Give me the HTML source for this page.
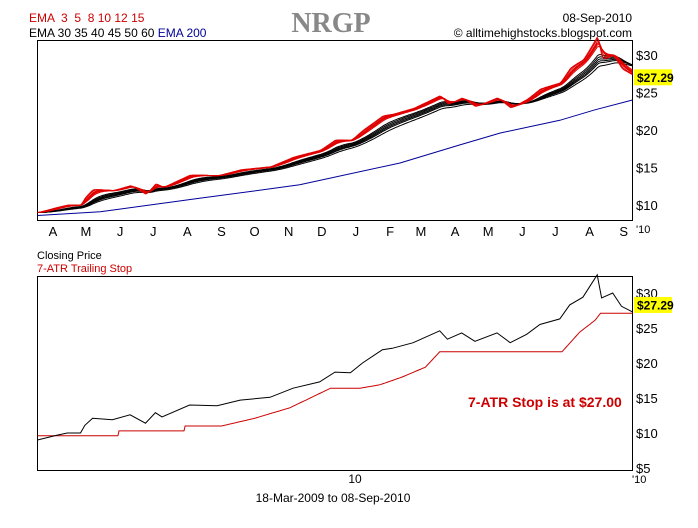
<!DOCTYPE html>
<html><head><meta charset="utf-8">
<style>
body{margin:0;background:#fff;width:698px;height:528px;overflow:hidden;font-family:"Liberation Sans",sans-serif;}
svg{display:block}
</style></head>
<body>
<svg id="chart" width="698" height="528">
  <text x="29" y="22" font-size="12" fill="#cc0000" xml:space="preserve">EMA  3  5  8 10 12 15</text>
  <text x="29" y="37" font-size="12" fill="#000">EMA 30 35 40 45 50 60 <tspan fill="#000099">EMA 200</tspan></text>
  <text x="331" y="32" font-size="28" font-weight="bold" fill="#888" text-anchor="middle" font-family="Liberation Serif, serif">NRGP</text>
  <text x="632" y="22" font-size="12" text-anchor="end">08-Sep-2010</text>
  <text x="632" y="37" font-size="12" text-anchor="end">© alltimehighstocks.blogspot.com</text>
  <rect x="37.5" y="40.5" width="595" height="180" fill="none" stroke="#000"/>
  <g id="topG"></g>
  <text x="37" y="259" font-size="11">Closing Price</text>
  <text x="37" y="272" font-size="11" fill="#cc0000">7-ATR Trailing Stop</text>
  <rect x="37.5" y="276.5" width="595" height="194" fill="none" stroke="#000"/>
  <g id="botG"></g>
  <text x="468" y="407" font-size="14" font-weight="bold" fill="#cc0000">7-ATR Stop is at $27.00</text>
  <text x="355" y="483" font-size="12" text-anchor="middle">10</text>
  <text x="333" y="502" font-size="12" text-anchor="middle">18-Mar-2009 to 08-Sep-2010</text>
</svg>
<script>
// Data: day offsets from 18-Mar-2009 and closes
const closeDays = [0,18,27,39,43,50,68,84,98,107,113,138,163,184,211,232,256,270,284,295,313,322,341,365,372,385,397,417,429,444,456,474,483,495,508,512,522,530,540];
const closeVals = [9.0,9.7,10.0,10.0,11.1,12.1,11.9,12.6,11.4,12.9,12.3,14.0,13.9,14.7,15.1,16.4,17.3,18.7,18.6,20.0,21.9,22.1,22.9,24.6,23.4,24.3,23.1,24.3,22.9,24.1,25.5,26.3,28.3,29.4,32.6,29.3,30.0,28.1,27.3];
const stopDays = [0,73,74,133,134,167,197,229,266,293,311,331,352,365,476,492,506,511,540];
const stopVals = [9.6,9.6,10.3,10.3,11.0,11.0,12.1,13.6,16.4,16.4,16.9,18.0,19.4,21.6,21.6,24.4,26.1,27.1,27.1];
const ema200Days = [0,57,147,238,329,383,420,474,506,540];
const ema200Vals = [8.6,9.1,10.9,12.7,15.6,18.0,19.6,21.3,22.7,24.0];
const shortPeriods = [3,5,8,10,12,15];
const longPeriods = [30,35,40,45,50,60];
const topTicks = [10,15,20,25,30];
const botTicks = [5,10,15,20,25,30];
const months = ["A","M","J","J","A","S","O","N","D","J","F","M","A","M","J","J","A","S"];
const monthDays = [14,44,75,105,136,167,197,228,258,289,320,348,379,409,440,470,501,532];
const lastPrice = "$27.29";

const NS="http://www.w3.org/2000/svg";
const maxDay=540;
const X=d=>37.5+d*(595/maxDay);
const YT=v=>55+(30-v)*7.5;
const YB=v=>293+(30-v)*7;
function mk(tag,attrs,parent){const e=document.createElementNS(NS,tag);for(const k in attrs)e.setAttribute(k,attrs[k]);parent.appendChild(e);return e;}
function interp(days,vals,d){for(let i=1;i<days.length;i++){if(d<=days[i]){const t=(d-days[i-1])/((days[i]-days[i-1])||1);return vals[i-1]+t*(vals[i]-vals[i-1]);}}return vals[vals.length-1];}
const daily=[];for(let d=0;d<=maxDay;d++)daily.push(interp(closeDays,closeVals,d));
function ema(p){const k=2/(p+1);let e=daily[0];return daily.map(v=>(e=e+k*(v-e)));}
function pathOf(arr,Y){return arr.map((v,i)=>(i?'L':'M')+X(i).toFixed(1)+','+Y(v).toFixed(1)).join('');}
function pathXY(days,vals,Y){return days.map((d,i)=>(i?'L':'M')+X(d).toFixed(1)+','+Y(vals[i]).toFixed(1)).join('');}
const topG=document.getElementById('topG'), botG=document.getElementById('botG');
// top panel
const e200=mk('path',{d:pathXY(ema200Days,ema200Vals,YT),fill:'none',stroke:'#000099','stroke-width':1},topG);


longPeriods.forEach(p=>{const l=mk('path',{d:pathOf(ema(p),YT),fill:'none',stroke:'#000','stroke-width':1},topG);

});
shortPeriods.forEach(p=>{const l=mk('path',{d:pathOf(ema(p),YT),fill:'none',stroke:'#e00000','stroke-width':1},topG);

});
topTicks.forEach(v=>{const t=mk('text',{x:636,y:YT(v)+5,'font-size':13},topG);t.textContent='$'+v;

});
months.forEach((m,i)=>{const t=mk('text',{x:X(monthDays[i]),y:236,'font-size':13,'text-anchor':'middle'},topG);t.textContent=m;

});
let yr=mk('text',{x:636,y:233,'font-size':11},topG);yr.textContent="'10";


function priceTag(y,g,name){const r=mk('rect',{x:634,y:y-8,width:38,height:16,fill:'#ffff00'},g);


const t=mk('text',{x:637,y:y+4.5,'font-size':12,'font-weight':'bold'},g);t.textContent=lastPrice;

}
priceTag(YT(27.29)+2,topG,'top-last-price-tag');
// bottom panel
const stopPts=[];for(let d=0;d<=maxDay;d++)stopPts.push(interp(stopDays,stopVals,d));
const sp=mk('path',{d:pathOf(stopPts,YB),fill:'none',stroke:'#cc0000','stroke-width':1},botG);


const cp=mk('path',{d:pathXY(closeDays,closeVals,YB),fill:'none',stroke:'#000','stroke-width':1},botG);


botTicks.forEach(v=>{const t=mk('text',{x:636,y:YB(v)+5,'font-size':13},botG);t.textContent='$'+v;

});
let yr2=mk('text',{x:632,y:483,'font-size':11},botG);yr2.textContent="'10";


priceTag(YB(27.29)-7,botG,'bottom-last-price-tag');
</script>
</body></html>
